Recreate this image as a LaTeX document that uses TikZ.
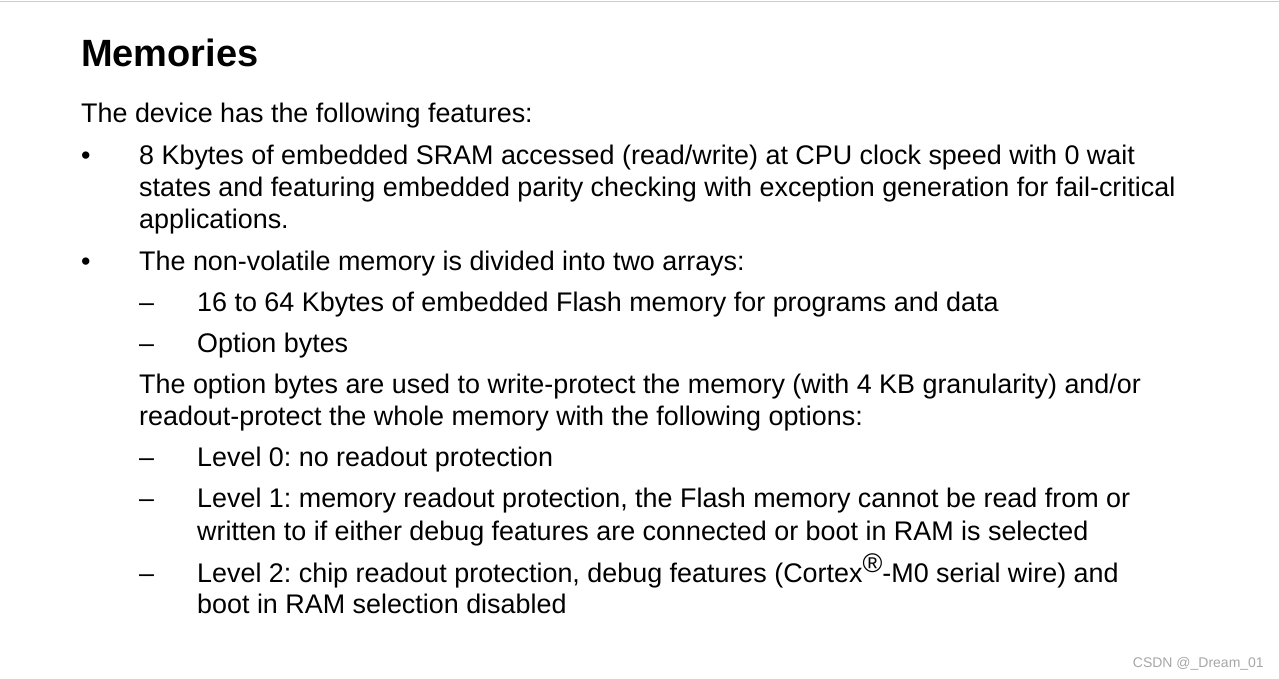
\documentclass[tikz,border=0pt]{standalone}
\usepackage{fontspec}
\setmainfont{Liberation Sans}
\frenchspacing
\begin{document}
\begin{tikzpicture}[x=1pt,y=-1pt,
  txt/.style={anchor=base west,inner sep=0pt,font=\fontsize{26.9}{32}\selectfont},
  ttl/.style={anchor=base west,inner sep=0pt,font=\fontsize{38}{44}\selectfont\bfseries}]
\useasboundingbox (0,0) rectangle (1279,678);
\draw[gray!40,line width=1pt] (0,1) -- (1279,1);
\node[ttl] (t) at (81,66) {Memories};
\node[txt] (l0) at (81,122) {The device has the following features:};
\node[txt] (b1) at (81,164) {\textbullet};
\node[txt] (l1) at (139,164) {8 Kbytes of embedded SRAM accessed (read/write) at CPU clock speed with 0 wait};
\node[txt] (l2) at (139,196) {states and featuring embedded parity checking with exception generation for fail-critical};
\node[txt] (l3) at (139,228) {applications.};
\node[txt] (b2) at (81,270) {\textbullet};
\node[txt] (l4) at (139,270) {The non-volatile memory is divided into two arrays:};
\node[txt] (d1) at (139,311) {–};
\node[txt] (l5) at (197,311) {16 to 64 Kbytes of embedded Flash memory for programs and data};
\node[txt] (d2) at (139,352) {–};
\node[txt] (l6) at (197,352) {Option bytes};
\node[txt] (l7) at (139,393) {The option bytes are used to write-protect the memory (with 4 KB granularity) and/or};
\node[txt] (l8) at (139,425) {readout-protect the whole memory with the following options:};
\node[txt] (d3) at (139,466) {–};
\node[txt] (l9) at (197,466) {Level 0: no readout protection};
\node[txt] (d4) at (139,507) {–};
\node[txt] (l10) at (197,507) {Level 1: memory readout protection, the Flash memory cannot be read from or};
\node[txt] (l11) at (197,540) {written to if either debug features are connected or boot in RAM is selected};
\node[txt] (d5) at (139,582) {–};
\node[txt] (l12) at (197,582) {Level 2: chip readout protection, debug features (Cortex\raisebox{10pt}{®}-M0 serial wire) and};
\node[txt] (l13) at (197,613) {boot in RAM selection disabled};
\node[anchor=base east,inner sep=0pt,font=\fontsize{14}{16}\selectfont,text=gray!70] (w) at (1264,667) {CSDN @\_Dream\_01};
\end{tikzpicture}
\end{document}
